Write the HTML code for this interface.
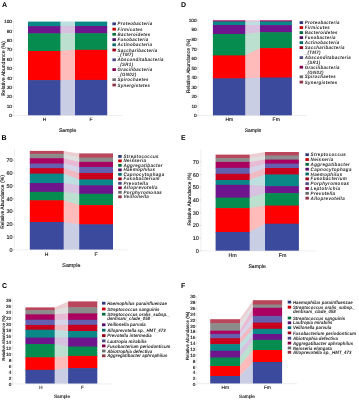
<!DOCTYPE html>
<html><head><meta charset="utf-8"><title>Relative abundance</title>
<style>
html,body{margin:0;padding:0;background:#fff;}
body{width:359px;height:400px;overflow:hidden;}
svg{display:block;}
text{font-family:'Liberation Sans', Arial, sans-serif;fill:#222;text-rendering:geometricPrecision;}
.tk{font-size:4.5px;fill:#111;stroke:#111;stroke-width:0.12px;}
.xl{font-size:4.5px;fill:#111;stroke:#111;stroke-width:0.12px;}
.ti{font-size:5.1px;fill:#111;stroke:#111;stroke-width:0.12px;}
.pl{font-size:7px;font-weight:bold;fill:#000;}
.lg{font-size:4.4px;font-weight:bold;font-style:italic;letter-spacing:0.3px;fill:#2a2a2a;}
.lb{font-size:4.5px;font-weight:bold;font-style:italic;letter-spacing:0.33px;fill:#2a2a2a;}
.lc{font-size:4.35px;font-weight:bold;font-style:italic;letter-spacing:0.03px;fill:#2a2a2a;}
</style></head>
<body>
<svg width="359" height="400" viewBox="0 0 359 400">
<rect width="359" height="400" fill="#fff"/>
<polygon points="60.1,26.7 75.3,26.6 75.3,21.6 60.1,21.6" fill="#bddfdf"/>
<polygon points="60.1,33.9 75.3,33.8 75.3,26 60.1,26.1" fill="#d8c0e0"/>
<polygon points="60.1,51.6 75.3,50.4 75.3,33.2 60.1,33.3" fill="#bce0cf"/>
<polygon points="60.1,80.7 75.3,80.5 75.3,49.8 60.1,51" fill="#ffbaba"/>
<polygon points="60.1,115.5 75.3,115.5 75.3,79.9 60.1,80.1" fill="#cacee4"/>
<rect x="28" y="21.6" width="32.4" height="5.1" fill="#0a8888"/>
<rect x="28" y="26.1" width="32.4" height="7.8" fill="#6e148c"/>
<rect x="28" y="33.3" width="32.4" height="18.3" fill="#078c4f"/>
<rect x="28" y="51" width="32.4" height="29.7" fill="#ff0000"/>
<rect x="28" y="80.1" width="32.4" height="35.4" fill="#3b4a9c"/>
<rect x="75" y="21.6" width="32.2" height="5" fill="#0a8888"/>
<rect x="75" y="26" width="32.2" height="7.8" fill="#6e148c"/>
<rect x="75" y="33.2" width="32.2" height="17.2" fill="#078c4f"/>
<rect x="75" y="49.8" width="32.2" height="30.7" fill="#ff0000"/>
<rect x="75" y="79.9" width="32.2" height="35.6" fill="#3b4a9c"/>
<line x1="13.5" y1="115.5" x2="13.5" y2="21.4" stroke="#dedede" stroke-width="0.5"/>
<line x1="13.5" y1="115.5" x2="122.3" y2="115.5" stroke="#dedede" stroke-width="0.5"/>
<line x1="12.1" y1="115.5" x2="13.5" y2="115.5" stroke="#9a9a9a" stroke-width="0.4"/>
<text x="11.9" y="117.19" class="tk" style="font-size:4.7px" text-anchor="end">0</text>
<line x1="12.1" y1="106.09" x2="13.5" y2="106.09" stroke="#9a9a9a" stroke-width="0.4"/>
<text x="11.9" y="107.78" class="tk" style="font-size:4.7px" text-anchor="end">10</text>
<line x1="12.1" y1="96.68" x2="13.5" y2="96.68" stroke="#9a9a9a" stroke-width="0.4"/>
<text x="11.9" y="98.37" class="tk" style="font-size:4.7px" text-anchor="end">20</text>
<line x1="12.1" y1="87.27" x2="13.5" y2="87.27" stroke="#9a9a9a" stroke-width="0.4"/>
<text x="11.9" y="88.96" class="tk" style="font-size:4.7px" text-anchor="end">30</text>
<line x1="12.1" y1="77.86" x2="13.5" y2="77.86" stroke="#9a9a9a" stroke-width="0.4"/>
<text x="11.9" y="79.55" class="tk" style="font-size:4.7px" text-anchor="end">40</text>
<line x1="12.1" y1="68.45" x2="13.5" y2="68.45" stroke="#9a9a9a" stroke-width="0.4"/>
<text x="11.9" y="70.14" class="tk" style="font-size:4.7px" text-anchor="end">50</text>
<line x1="12.1" y1="59.04" x2="13.5" y2="59.04" stroke="#9a9a9a" stroke-width="0.4"/>
<text x="11.9" y="60.73" class="tk" style="font-size:4.7px" text-anchor="end">60</text>
<line x1="12.1" y1="49.63" x2="13.5" y2="49.63" stroke="#9a9a9a" stroke-width="0.4"/>
<text x="11.9" y="51.32" class="tk" style="font-size:4.7px" text-anchor="end">70</text>
<line x1="12.1" y1="40.22" x2="13.5" y2="40.22" stroke="#9a9a9a" stroke-width="0.4"/>
<text x="11.9" y="41.91" class="tk" style="font-size:4.7px" text-anchor="end">80</text>
<line x1="12.1" y1="30.81" x2="13.5" y2="30.81" stroke="#9a9a9a" stroke-width="0.4"/>
<text x="11.9" y="32.5" class="tk" style="font-size:4.7px" text-anchor="end">90</text>
<line x1="12.1" y1="21.4" x2="13.5" y2="21.4" stroke="#9a9a9a" stroke-width="0.4"/>
<text x="11.9" y="23.09" class="tk" style="font-size:4.7px" text-anchor="end">100</text>
<text x="44.5" y="120.9" class="xl" style="font-size:4.8px" text-anchor="middle">H</text>
<text x="91" y="120.9" class="xl" style="font-size:4.8px" text-anchor="middle">F</text>
<text x="67.6" y="131.5" class="ti" style="font-size:5.15px" text-anchor="middle">Sample</text>
<text transform="translate(4.5,68.5) rotate(-90)" class="ti" style="font-size:5.1px" text-anchor="middle">Relative Abundance (%)</text>
<text x="2" y="7.4" class="pl">A</text>
<rect x="112.4" y="22.4" width="3.5" height="2.8" fill="#2e3979"/>
<text transform="translate(117.6,25.4) scale(1,1.08)" class="lg">Proteobacteria</text>
<rect x="112.4" y="27.8" width="3.5" height="2.8" fill="#c60000"/>
<text transform="translate(117.6,30.8) scale(1,1.08)" class="lg">Firmicutes</text>
<rect x="112.4" y="32.9" width="3.5" height="2.8" fill="#056d3d"/>
<text transform="translate(117.6,35.9) scale(1,1.08)" class="lg">Bacteroidetes</text>
<rect x="112.4" y="38.2" width="3.5" height="2.8" fill="#550f6d"/>
<text transform="translate(117.6,41.2) scale(1,1.08)" class="lg">Fusobacteria</text>
<rect x="112.4" y="43.4" width="3.5" height="2.8" fill="#076a6a"/>
<text transform="translate(117.6,46.4) scale(1,1.08)" class="lg">Actinobacteria</text>
<rect x="112.4" y="48.6" width="3.5" height="2.8" fill="#9c0017"/>
<text transform="translate(117.6,51.6) scale(1,1.08)" class="lg">Saccharibacteria</text>
<text transform="translate(117.6,56.45) scale(1,1.08)" class="lg">_(TM7)</text>
<rect x="112.4" y="58.4" width="3.5" height="2.8" fill="#4e4a88"/>
<text transform="translate(117.6,61.4) scale(1,1.08)" class="lg">Absconditabacteria</text>
<text transform="translate(117.6,66.25) scale(1,1.08)" class="lg">_(SR1)</text>
<rect x="112.4" y="68.2" width="3.5" height="2.8" fill="#84004a"/>
<text transform="translate(117.6,71.2) scale(1,1.08)" class="lg">Gracilibacteria</text>
<text transform="translate(117.6,76.05) scale(1,1.08)" class="lg">_(GN02)</text>
<rect x="112.4" y="78.3" width="3.5" height="2.8" fill="#6d6d6d"/>
<text transform="translate(117.6,81.3) scale(1,1.08)" class="lg">Spirochaetes</text>
<rect x="112.4" y="83.6" width="3.5" height="2.8" fill="#903646"/>
<text transform="translate(117.6,86.6) scale(1,1.08)" class="lg">Synergistetes</text>
<polygon points="244.9,22 260.3,22 260.3,20.3 244.9,20.3" fill="#e8bad4"/>
<polygon points="244.9,25.6 260.3,25.7 260.3,21.4 244.9,21.4" fill="#bddfdf"/>
<polygon points="244.9,34.6 260.3,32.8 260.3,25.1 244.9,25" fill="#d8c0e0"/>
<polygon points="244.9,56 260.3,48.7 260.3,32.2 244.9,34" fill="#bce0cf"/>
<polygon points="244.9,78.9 260.3,78.1 260.3,48.1 244.9,55.4" fill="#ffbaba"/>
<polygon points="244.9,115.6 260.3,115.6 260.3,77.5 244.9,78.3" fill="#cacee4"/>
<rect x="212.9" y="20.3" width="32.3" height="1.7" fill="#aa005f"/>
<rect x="212.9" y="21.4" width="32.3" height="4.2" fill="#0a8888"/>
<rect x="212.9" y="25" width="32.3" height="9.6" fill="#6e148c"/>
<rect x="212.9" y="34" width="32.3" height="22" fill="#078c4f"/>
<rect x="212.9" y="55.4" width="32.3" height="23.5" fill="#ff0000"/>
<rect x="212.9" y="78.3" width="32.3" height="37.3" fill="#3b4a9c"/>
<rect x="260" y="20.3" width="31.9" height="1.7" fill="#aa005f"/>
<rect x="260" y="21.4" width="31.9" height="4.3" fill="#0a8888"/>
<rect x="260" y="25.1" width="31.9" height="7.7" fill="#6e148c"/>
<rect x="260" y="32.2" width="31.9" height="16.5" fill="#078c4f"/>
<rect x="260" y="48.1" width="31.9" height="30" fill="#ff0000"/>
<rect x="260" y="77.5" width="31.9" height="38.1" fill="#3b4a9c"/>
<line x1="198.2" y1="115.6" x2="198.2" y2="20.2" stroke="#dedede" stroke-width="0.5"/>
<line x1="198.2" y1="115.6" x2="307" y2="115.6" stroke="#dedede" stroke-width="0.5"/>
<line x1="196.8" y1="115.6" x2="198.2" y2="115.6" stroke="#9a9a9a" stroke-width="0.4"/>
<text x="196.6" y="117.29" class="tk" style="font-size:4.7px" text-anchor="end">0</text>
<line x1="196.8" y1="106.06" x2="198.2" y2="106.06" stroke="#9a9a9a" stroke-width="0.4"/>
<text x="196.6" y="107.75" class="tk" style="font-size:4.7px" text-anchor="end">10</text>
<line x1="196.8" y1="96.52" x2="198.2" y2="96.52" stroke="#9a9a9a" stroke-width="0.4"/>
<text x="196.6" y="98.21" class="tk" style="font-size:4.7px" text-anchor="end">20</text>
<line x1="196.8" y1="86.98" x2="198.2" y2="86.98" stroke="#9a9a9a" stroke-width="0.4"/>
<text x="196.6" y="88.67" class="tk" style="font-size:4.7px" text-anchor="end">30</text>
<line x1="196.8" y1="77.44" x2="198.2" y2="77.44" stroke="#9a9a9a" stroke-width="0.4"/>
<text x="196.6" y="79.13" class="tk" style="font-size:4.7px" text-anchor="end">40</text>
<line x1="196.8" y1="67.9" x2="198.2" y2="67.9" stroke="#9a9a9a" stroke-width="0.4"/>
<text x="196.6" y="69.59" class="tk" style="font-size:4.7px" text-anchor="end">50</text>
<line x1="196.8" y1="58.36" x2="198.2" y2="58.36" stroke="#9a9a9a" stroke-width="0.4"/>
<text x="196.6" y="60.05" class="tk" style="font-size:4.7px" text-anchor="end">60</text>
<line x1="196.8" y1="48.82" x2="198.2" y2="48.82" stroke="#9a9a9a" stroke-width="0.4"/>
<text x="196.6" y="50.51" class="tk" style="font-size:4.7px" text-anchor="end">70</text>
<line x1="196.8" y1="39.28" x2="198.2" y2="39.28" stroke="#9a9a9a" stroke-width="0.4"/>
<text x="196.6" y="40.97" class="tk" style="font-size:4.7px" text-anchor="end">80</text>
<line x1="196.8" y1="29.74" x2="198.2" y2="29.74" stroke="#9a9a9a" stroke-width="0.4"/>
<text x="196.6" y="31.43" class="tk" style="font-size:4.7px" text-anchor="end">90</text>
<line x1="196.8" y1="20.2" x2="198.2" y2="20.2" stroke="#9a9a9a" stroke-width="0.4"/>
<text x="196.6" y="21.89" class="tk" style="font-size:4.7px" text-anchor="end">100</text>
<text x="229.4" y="120.7" class="xl" style="font-size:5.0px" text-anchor="middle">Hm</text>
<text x="276.2" y="120.7" class="xl" style="font-size:5.0px" text-anchor="middle">Fm</text>
<text x="253" y="131.8" class="ti" style="font-size:4.95px" text-anchor="middle">Sample</text>
<text transform="translate(189.8,66) rotate(-90)" class="ti" style="font-size:5.1px" text-anchor="middle">Relative Abundance (%)</text>
<text x="181.1" y="7.4" class="pl">D</text>
<rect x="299.6" y="21.2" width="3.5" height="2.8" fill="#2e3979"/>
<text transform="translate(304.8,24.2) scale(1,1.08)" class="lg">Proteobacteria</text>
<rect x="299.6" y="26.2" width="3.5" height="2.8" fill="#c60000"/>
<text transform="translate(304.8,29.2) scale(1,1.08)" class="lg">Firmicutes</text>
<rect x="299.6" y="31.2" width="3.5" height="2.8" fill="#056d3d"/>
<text transform="translate(304.8,34.2) scale(1,1.08)" class="lg">Bacteroidetes</text>
<rect x="299.6" y="36.2" width="3.5" height="2.8" fill="#550f6d"/>
<text transform="translate(304.8,39.2) scale(1,1.08)" class="lg">Fusobacteria</text>
<rect x="299.6" y="41.2" width="3.5" height="2.8" fill="#076a6a"/>
<text transform="translate(304.8,44.2) scale(1,1.08)" class="lg">Actinobacteria</text>
<rect x="299.6" y="46.2" width="3.5" height="2.8" fill="#9c0017"/>
<text transform="translate(304.8,49.2) scale(1,1.08)" class="lg">Saccharibacteria</text>
<text transform="translate(304.8,54) scale(1,1.08)" class="lg">_(TM7)</text>
<rect x="299.6" y="56.2" width="3.5" height="2.8" fill="#4e4a88"/>
<text transform="translate(304.8,59.2) scale(1,1.08)" class="lg">Absconditabacteria</text>
<text transform="translate(304.8,64) scale(1,1.08)" class="lg">_(SR1)</text>
<rect x="299.6" y="65.8" width="3.5" height="2.8" fill="#84004a"/>
<text transform="translate(304.8,68.8) scale(1,1.08)" class="lg">Gracilibacteria</text>
<text transform="translate(304.8,73.6) scale(1,1.08)" class="lg">_(GN02)</text>
<rect x="299.6" y="75.4" width="3.5" height="2.8" fill="#6d6d6d"/>
<text transform="translate(304.8,78.4) scale(1,1.08)" class="lg">Spirochaetes</text>
<rect x="299.6" y="80.7" width="3.5" height="2.8" fill="#903646"/>
<text transform="translate(304.8,83.7) scale(1,1.08)" class="lg">Synergistetes</text>
<polygon points="63.4,154.4 79.5,158.2 79.5,153.4 63.4,150.9" fill="#eccdd2"/>
<polygon points="63.4,158.8 79.5,162.5 79.5,157.6 63.4,153.8" fill="#e0e0e0"/>
<polygon points="63.4,164.1 79.5,167.5 79.5,161.9 63.4,158.2" fill="#e8bad4"/>
<polygon points="63.4,168.7 79.5,173.6 79.5,166.9 63.4,163.5" fill="#d5d4e9"/>
<polygon points="63.4,174.2 79.5,180 79.5,173 63.4,168.1" fill="#f0bac2"/>
<polygon points="63.4,183.6 79.5,185.9 79.5,179.4 63.4,173.6" fill="#bddfdf"/>
<polygon points="63.4,192.4 79.5,194.4 79.5,185.3 63.4,183" fill="#d8c0e0"/>
<polygon points="63.4,200.9 79.5,205.7 79.5,193.8 63.4,191.8" fill="#bce0cf"/>
<polygon points="63.4,222.6 79.5,224.9 79.5,205.1 63.4,200.3" fill="#ffbaba"/>
<polygon points="63.4,249.8 79.5,249.8 79.5,224.3 63.4,222" fill="#cacee4"/>
<rect x="29.8" y="150.9" width="33.9" height="3.5" fill="#b9465a"/>
<rect x="29.8" y="153.8" width="33.9" height="5" fill="#8c8c8c"/>
<rect x="29.8" y="158.2" width="33.9" height="5.9" fill="#aa005f"/>
<rect x="29.8" y="163.5" width="33.9" height="5.2" fill="#645faf"/>
<rect x="29.8" y="168.1" width="33.9" height="6.1" fill="#c8001e"/>
<rect x="29.8" y="173.6" width="33.9" height="10" fill="#0a8888"/>
<rect x="29.8" y="183" width="33.9" height="9.4" fill="#6e148c"/>
<rect x="29.8" y="191.8" width="33.9" height="9.1" fill="#078c4f"/>
<rect x="29.8" y="200.3" width="33.9" height="22.3" fill="#ff0000"/>
<rect x="29.8" y="222" width="33.9" height="27.8" fill="#3b4a9c"/>
<rect x="79.2" y="153.4" width="33.8" height="4.8" fill="#b9465a"/>
<rect x="79.2" y="157.6" width="33.8" height="4.9" fill="#8c8c8c"/>
<rect x="79.2" y="161.9" width="33.8" height="5.6" fill="#aa005f"/>
<rect x="79.2" y="166.9" width="33.8" height="6.7" fill="#645faf"/>
<rect x="79.2" y="173" width="33.8" height="7" fill="#c8001e"/>
<rect x="79.2" y="179.4" width="33.8" height="6.5" fill="#0a8888"/>
<rect x="79.2" y="185.3" width="33.8" height="9.1" fill="#6e148c"/>
<rect x="79.2" y="193.8" width="33.8" height="11.9" fill="#078c4f"/>
<rect x="79.2" y="205.1" width="33.8" height="19.8" fill="#ff0000"/>
<rect x="79.2" y="224.3" width="33.8" height="25.5" fill="#3b4a9c"/>
<line x1="14.5" y1="249.8" x2="14.5" y2="149" stroke="#dedede" stroke-width="0.5"/>
<line x1="14.5" y1="249.8" x2="128" y2="249.8" stroke="#dedede" stroke-width="0.5"/>
<line x1="13.1" y1="249.8" x2="14.5" y2="249.8" stroke="#9a9a9a" stroke-width="0.4"/>
<text x="12.6" y="251.78" class="tk" style="font-size:5.5px" text-anchor="end">0</text>
<line x1="13.1" y1="237" x2="14.5" y2="237" stroke="#9a9a9a" stroke-width="0.4"/>
<text x="12.6" y="238.98" class="tk" style="font-size:5.5px" text-anchor="end">10</text>
<line x1="13.1" y1="224.2" x2="14.5" y2="224.2" stroke="#9a9a9a" stroke-width="0.4"/>
<text x="12.6" y="226.18" class="tk" style="font-size:5.5px" text-anchor="end">20</text>
<line x1="13.1" y1="211.4" x2="14.5" y2="211.4" stroke="#9a9a9a" stroke-width="0.4"/>
<text x="12.6" y="213.38" class="tk" style="font-size:5.5px" text-anchor="end">30</text>
<line x1="13.1" y1="198.6" x2="14.5" y2="198.6" stroke="#9a9a9a" stroke-width="0.4"/>
<text x="12.6" y="200.58" class="tk" style="font-size:5.5px" text-anchor="end">40</text>
<line x1="13.1" y1="185.8" x2="14.5" y2="185.8" stroke="#9a9a9a" stroke-width="0.4"/>
<text x="12.6" y="187.78" class="tk" style="font-size:5.5px" text-anchor="end">50</text>
<line x1="13.1" y1="173" x2="14.5" y2="173" stroke="#9a9a9a" stroke-width="0.4"/>
<text x="12.6" y="174.98" class="tk" style="font-size:5.5px" text-anchor="end">60</text>
<line x1="13.1" y1="160.2" x2="14.5" y2="160.2" stroke="#9a9a9a" stroke-width="0.4"/>
<text x="12.6" y="162.18" class="tk" style="font-size:5.5px" text-anchor="end">70</text>
<text x="46.7" y="255.6" class="xl" style="font-size:5.1px" text-anchor="middle">H</text>
<text x="96" y="255.6" class="xl" style="font-size:5.1px" text-anchor="middle">F</text>
<text x="71.4" y="266.5" class="ti" style="font-size:5.35px" text-anchor="middle">Sample</text>
<text transform="translate(4.3,202) rotate(-90)" class="ti" style="font-size:5.0px" text-anchor="middle">Relative Abundance (%)</text>
<text x="1.5" y="140.1" class="pl">B</text>
<rect x="118.2" y="155" width="3.5" height="2.8" fill="#2e3979"/>
<text transform="translate(123.4,158) scale(1,1.08)" class="lb">Streptococcus</text>
<rect x="118.2" y="159.49" width="3.5" height="2.8" fill="#c60000"/>
<text transform="translate(123.4,162.49) scale(1,1.08)" class="lb">Neisseria</text>
<rect x="118.2" y="163.98" width="3.5" height="2.8" fill="#056d3d"/>
<text transform="translate(123.4,166.98) scale(1,1.08)" class="lb">Aggregatibacter</text>
<rect x="118.2" y="168.47" width="3.5" height="2.8" fill="#550f6d"/>
<text transform="translate(123.4,171.47) scale(1,1.08)" class="lb">Haemophilus</text>
<rect x="118.2" y="172.96" width="3.5" height="2.8" fill="#076a6a"/>
<text transform="translate(123.4,175.96) scale(1,1.08)" class="lb">Capnocytophaga</text>
<rect x="118.2" y="177.45" width="3.5" height="2.8" fill="#9c0017"/>
<text transform="translate(123.4,180.45) scale(1,1.08)" class="lb">Fusobacterium</text>
<rect x="118.2" y="181.94" width="3.5" height="2.8" fill="#4e4a88"/>
<text transform="translate(123.4,184.94) scale(1,1.08)" class="lb">Prevotella</text>
<rect x="118.2" y="186.43" width="3.5" height="2.8" fill="#84004a"/>
<text transform="translate(123.4,189.43) scale(1,1.08)" class="lb">Alloprevotella</text>
<rect x="118.2" y="190.92" width="3.5" height="2.8" fill="#6d6d6d"/>
<text transform="translate(123.4,193.92) scale(1,1.08)" class="lb">Porphyromonas</text>
<rect x="118.2" y="195.41" width="3.5" height="2.8" fill="#903646"/>
<text transform="translate(123.4,198.41) scale(1,1.08)" class="lb">Veillonella</text>
<polygon points="249.4,158.6 265.3,156 265.3,152 249.4,154.6" fill="#eccdd2"/>
<polygon points="249.4,162.5 265.3,160.2 265.3,155.4 249.4,158" fill="#e0e0e0"/>
<polygon points="249.4,168.4 265.3,164.2 265.3,159.6 249.4,161.9" fill="#e8bad4"/>
<polygon points="249.4,174.4 265.3,168.6 265.3,163.6 249.4,167.8" fill="#d5d4e9"/>
<polygon points="249.4,180.6 265.3,175 265.3,168 249.4,173.8" fill="#f0bac2"/>
<polygon points="249.4,185.4 265.3,186.7 265.3,174.4 249.4,180" fill="#bddfdf"/>
<polygon points="249.4,198.2 265.3,193.7 265.3,186.1 249.4,184.8" fill="#d8c0e0"/>
<polygon points="249.4,208.7 265.3,206.2 265.3,193.1 249.4,197.6" fill="#bce0cf"/>
<polygon points="249.4,232.6 265.3,224.3 265.3,205.6 249.4,208.1" fill="#ffbaba"/>
<polygon points="249.4,250.9 265.3,250.9 265.3,223.7 249.4,232" fill="#cacee4"/>
<rect x="215.6" y="154.6" width="34.1" height="4" fill="#b9465a"/>
<rect x="215.6" y="158" width="34.1" height="4.5" fill="#8c8c8c"/>
<rect x="215.6" y="161.9" width="34.1" height="6.5" fill="#aa005f"/>
<rect x="215.6" y="167.8" width="34.1" height="6.6" fill="#645faf"/>
<rect x="215.6" y="173.8" width="34.1" height="6.8" fill="#c8001e"/>
<rect x="215.6" y="180" width="34.1" height="5.4" fill="#0a8888"/>
<rect x="215.6" y="184.8" width="34.1" height="13.4" fill="#6e148c"/>
<rect x="215.6" y="197.6" width="34.1" height="11.1" fill="#078c4f"/>
<rect x="215.6" y="208.1" width="34.1" height="24.5" fill="#ff0000"/>
<rect x="215.6" y="232" width="34.1" height="18.9" fill="#3b4a9c"/>
<rect x="265" y="152" width="33.9" height="4" fill="#b9465a"/>
<rect x="265" y="155.4" width="33.9" height="4.8" fill="#8c8c8c"/>
<rect x="265" y="159.6" width="33.9" height="4.6" fill="#aa005f"/>
<rect x="265" y="163.6" width="33.9" height="5" fill="#645faf"/>
<rect x="265" y="168" width="33.9" height="7" fill="#c8001e"/>
<rect x="265" y="174.4" width="33.9" height="12.3" fill="#0a8888"/>
<rect x="265" y="186.1" width="33.9" height="7.6" fill="#6e148c"/>
<rect x="265" y="193.1" width="33.9" height="13.1" fill="#078c4f"/>
<rect x="265" y="205.6" width="33.9" height="18.7" fill="#ff0000"/>
<rect x="265" y="223.7" width="33.9" height="27.2" fill="#3b4a9c"/>
<line x1="200.9" y1="250.9" x2="200.9" y2="149.5" stroke="#dedede" stroke-width="0.5"/>
<line x1="200.9" y1="250.9" x2="316" y2="250.9" stroke="#dedede" stroke-width="0.5"/>
<line x1="199.5" y1="250.9" x2="200.9" y2="250.9" stroke="#9a9a9a" stroke-width="0.4"/>
<text x="198.8" y="252.88" class="tk" style="font-size:5.5px" text-anchor="end">0</text>
<line x1="199.5" y1="238.17" x2="200.9" y2="238.17" stroke="#9a9a9a" stroke-width="0.4"/>
<text x="198.8" y="240.15" class="tk" style="font-size:5.5px" text-anchor="end">10</text>
<line x1="199.5" y1="225.44" x2="200.9" y2="225.44" stroke="#9a9a9a" stroke-width="0.4"/>
<text x="198.8" y="227.42" class="tk" style="font-size:5.5px" text-anchor="end">20</text>
<line x1="199.5" y1="212.71" x2="200.9" y2="212.71" stroke="#9a9a9a" stroke-width="0.4"/>
<text x="198.8" y="214.69" class="tk" style="font-size:5.5px" text-anchor="end">30</text>
<line x1="199.5" y1="199.98" x2="200.9" y2="199.98" stroke="#9a9a9a" stroke-width="0.4"/>
<text x="198.8" y="201.96" class="tk" style="font-size:5.5px" text-anchor="end">40</text>
<line x1="199.5" y1="187.25" x2="200.9" y2="187.25" stroke="#9a9a9a" stroke-width="0.4"/>
<text x="198.8" y="189.23" class="tk" style="font-size:5.5px" text-anchor="end">50</text>
<line x1="199.5" y1="174.52" x2="200.9" y2="174.52" stroke="#9a9a9a" stroke-width="0.4"/>
<text x="198.8" y="176.5" class="tk" style="font-size:5.5px" text-anchor="end">60</text>
<line x1="199.5" y1="161.79" x2="200.9" y2="161.79" stroke="#9a9a9a" stroke-width="0.4"/>
<text x="198.8" y="163.77" class="tk" style="font-size:5.5px" text-anchor="end">70</text>
<text x="232.6" y="256.9" class="xl" style="font-size:5.3px" text-anchor="middle">Hm</text>
<text x="282.7" y="256.9" class="xl" style="font-size:5.3px" text-anchor="middle">Fm</text>
<text x="257.1" y="268.4" class="ti" style="font-size:5.15px" text-anchor="middle">Sample</text>
<text transform="translate(190.6,199) rotate(-90)" class="ti" style="font-size:4.95px" text-anchor="middle">Relative Abundance (%)</text>
<text x="181" y="140.2" class="pl">E</text>
<rect x="305.4" y="153.3" width="3.5" height="2.8" fill="#2e3979"/>
<text transform="translate(310.6,156.3) scale(1,1.08)" class="lb">Streptococcus</text>
<rect x="305.4" y="158.13" width="3.5" height="2.8" fill="#c60000"/>
<text transform="translate(310.6,161.13) scale(1,1.08)" class="lb">Neisseria</text>
<rect x="305.4" y="162.96" width="3.5" height="2.8" fill="#056d3d"/>
<text transform="translate(310.6,165.96) scale(1,1.08)" class="lb">Aggregatibacter</text>
<rect x="305.4" y="167.79" width="3.5" height="2.8" fill="#550f6d"/>
<text transform="translate(310.6,170.79) scale(1,1.08)" class="lb">Capnocytophaga</text>
<rect x="305.4" y="172.62" width="3.5" height="2.8" fill="#076a6a"/>
<text transform="translate(310.6,175.62) scale(1,1.08)" class="lb">Haemophilus</text>
<rect x="305.4" y="177.45" width="3.5" height="2.8" fill="#9c0017"/>
<text transform="translate(310.6,180.45) scale(1,1.08)" class="lb">Fusobacterium</text>
<rect x="305.4" y="182.28" width="3.5" height="2.8" fill="#4e4a88"/>
<text transform="translate(310.6,185.28) scale(1,1.08)" class="lb">Porphyromonas</text>
<rect x="305.4" y="187.11" width="3.5" height="2.8" fill="#84004a"/>
<text transform="translate(310.6,190.11) scale(1,1.08)" class="lb">Leptotrichia</text>
<rect x="305.4" y="191.94" width="3.5" height="2.8" fill="#6d6d6d"/>
<text transform="translate(310.6,194.94) scale(1,1.08)" class="lb">Prevotella</text>
<rect x="305.4" y="196.77" width="3.5" height="2.8" fill="#903646"/>
<text transform="translate(310.6,199.77) scale(1,1.08)" class="lb">Alloprevotella</text>
<polygon points="54.4,310.7 68.4,307.8 68.4,301.4 54.4,307.4" fill="#eccdd2"/>
<polygon points="54.4,314.9 68.4,314 68.4,307.2 54.4,310.1" fill="#e0e0e0"/>
<polygon points="54.4,320.3 68.4,320.4 68.4,313.4 54.4,314.3" fill="#e8bad4"/>
<polygon points="54.4,325.6 68.4,325.4 68.4,319.8 54.4,319.7" fill="#d5d4e9"/>
<polygon points="54.4,330.3 68.4,331.6 68.4,324.8 54.4,325" fill="#f0bac2"/>
<polygon points="54.4,338.2 68.4,338.2 68.4,331 54.4,329.7" fill="#bddfdf"/>
<polygon points="54.4,344.6 68.4,347.1 68.4,337.6 54.4,337.6" fill="#d8c0e0"/>
<polygon points="54.4,357.9 68.4,356.5 68.4,346.5 54.4,344" fill="#bce0cf"/>
<polygon points="54.4,370.4 68.4,368.7 68.4,355.9 54.4,357.3" fill="#ffbaba"/>
<polygon points="54.4,383.7 68.4,383.7 68.4,368.1 54.4,369.8" fill="#cacee4"/>
<rect x="25.4" y="307.4" width="29.3" height="3.3" fill="#b9465a"/>
<rect x="25.4" y="310.1" width="29.3" height="4.8" fill="#8c8c8c"/>
<rect x="25.4" y="314.3" width="29.3" height="6" fill="#aa005f"/>
<rect x="25.4" y="319.7" width="29.3" height="5.9" fill="#645faf"/>
<rect x="25.4" y="325" width="29.3" height="5.3" fill="#c8001e"/>
<rect x="25.4" y="329.7" width="29.3" height="8.5" fill="#0a8888"/>
<rect x="25.4" y="337.6" width="29.3" height="7" fill="#6e148c"/>
<rect x="25.4" y="344" width="29.3" height="13.9" fill="#078c4f"/>
<rect x="25.4" y="357.3" width="29.3" height="13.1" fill="#ff0000"/>
<rect x="25.4" y="369.8" width="29.3" height="13.9" fill="#3b4a9c"/>
<rect x="68.1" y="301.4" width="29.2" height="6.4" fill="#b9465a"/>
<rect x="68.1" y="307.2" width="29.2" height="6.8" fill="#8c8c8c"/>
<rect x="68.1" y="313.4" width="29.2" height="7" fill="#aa005f"/>
<rect x="68.1" y="319.8" width="29.2" height="5.6" fill="#645faf"/>
<rect x="68.1" y="324.8" width="29.2" height="6.8" fill="#c8001e"/>
<rect x="68.1" y="331" width="29.2" height="7.2" fill="#0a8888"/>
<rect x="68.1" y="337.6" width="29.2" height="9.5" fill="#6e148c"/>
<rect x="68.1" y="346.5" width="29.2" height="10" fill="#078c4f"/>
<rect x="68.1" y="355.9" width="29.2" height="12.8" fill="#ff0000"/>
<rect x="68.1" y="368.1" width="29.2" height="15.6" fill="#3b4a9c"/>
<line x1="12.6" y1="383.9" x2="12.6" y2="299.5" stroke="#dedede" stroke-width="0.5"/>
<line x1="12.6" y1="383.9" x2="112" y2="383.9" stroke="#dedede" stroke-width="0.5"/>
<line x1="11.2" y1="383.9" x2="12.6" y2="383.9" stroke="#9a9a9a" stroke-width="0.4"/>
<text x="11.2" y="385.56" class="tk" style="font-size:4.6px" text-anchor="end">0</text>
<line x1="11.2" y1="377.91" x2="12.6" y2="377.91" stroke="#9a9a9a" stroke-width="0.4"/>
<text x="11.2" y="379.57" class="tk" style="font-size:4.6px" text-anchor="end">2</text>
<line x1="11.2" y1="371.92" x2="12.6" y2="371.92" stroke="#9a9a9a" stroke-width="0.4"/>
<text x="11.2" y="373.58" class="tk" style="font-size:4.6px" text-anchor="end">4</text>
<line x1="11.2" y1="365.93" x2="12.6" y2="365.93" stroke="#9a9a9a" stroke-width="0.4"/>
<text x="11.2" y="367.59" class="tk" style="font-size:4.6px" text-anchor="end">6</text>
<line x1="11.2" y1="359.94" x2="12.6" y2="359.94" stroke="#9a9a9a" stroke-width="0.4"/>
<text x="11.2" y="361.6" class="tk" style="font-size:4.6px" text-anchor="end">8</text>
<line x1="11.2" y1="353.95" x2="12.6" y2="353.95" stroke="#9a9a9a" stroke-width="0.4"/>
<text x="11.2" y="355.61" class="tk" style="font-size:4.6px" text-anchor="end">10</text>
<line x1="11.2" y1="347.96" x2="12.6" y2="347.96" stroke="#9a9a9a" stroke-width="0.4"/>
<text x="11.2" y="349.62" class="tk" style="font-size:4.6px" text-anchor="end">12</text>
<line x1="11.2" y1="341.97" x2="12.6" y2="341.97" stroke="#9a9a9a" stroke-width="0.4"/>
<text x="11.2" y="343.63" class="tk" style="font-size:4.6px" text-anchor="end">14</text>
<line x1="11.2" y1="335.98" x2="12.6" y2="335.98" stroke="#9a9a9a" stroke-width="0.4"/>
<text x="11.2" y="337.64" class="tk" style="font-size:4.6px" text-anchor="end">16</text>
<line x1="11.2" y1="329.99" x2="12.6" y2="329.99" stroke="#9a9a9a" stroke-width="0.4"/>
<text x="11.2" y="331.65" class="tk" style="font-size:4.6px" text-anchor="end">18</text>
<line x1="11.2" y1="324" x2="12.6" y2="324" stroke="#9a9a9a" stroke-width="0.4"/>
<text x="11.2" y="325.66" class="tk" style="font-size:4.6px" text-anchor="end">20</text>
<line x1="11.2" y1="318.01" x2="12.6" y2="318.01" stroke="#9a9a9a" stroke-width="0.4"/>
<text x="11.2" y="319.67" class="tk" style="font-size:4.6px" text-anchor="end">22</text>
<line x1="11.2" y1="312.02" x2="12.6" y2="312.02" stroke="#9a9a9a" stroke-width="0.4"/>
<text x="11.2" y="313.68" class="tk" style="font-size:4.6px" text-anchor="end">24</text>
<line x1="11.2" y1="306.03" x2="12.6" y2="306.03" stroke="#9a9a9a" stroke-width="0.4"/>
<text x="11.2" y="307.69" class="tk" style="font-size:4.6px" text-anchor="end">26</text>
<line x1="11.2" y1="300.04" x2="12.6" y2="300.04" stroke="#9a9a9a" stroke-width="0.4"/>
<text x="11.2" y="301.7" class="tk" style="font-size:4.6px" text-anchor="end">28</text>
<text x="40.9" y="388.5" class="xl" style="font-size:4.5px" text-anchor="middle">H</text>
<text x="82.3" y="388.5" class="xl" style="font-size:4.5px" text-anchor="middle">F</text>
<text x="62" y="397.9" class="ti" style="font-size:4.75px" text-anchor="middle">Sample</text>
<text transform="translate(5.4,338) rotate(-90)" class="ti" style="font-size:4.2px" text-anchor="middle">Relative Abundance (%)</text>
<text x="2" y="287.7" class="pl">C</text>
<rect x="102" y="301.8" width="3.5" height="2.8" fill="#2e3979"/>
<text transform="translate(107.2,304.8) scale(1,1.08)" class="lc">Haemophilus parainfluenzae</text>
<rect x="102" y="307.6" width="3.5" height="2.8" fill="#c60000"/>
<text transform="translate(107.2,310.6) scale(1,1.08)" class="lc">Streptococcus sanguinis</text>
<rect x="102" y="312.8" width="3.5" height="2.8" fill="#056d3d"/>
<text transform="translate(107.2,315.8) scale(1,1.08)" class="lc">Streptococcus oralis_subsp._</text>
<text transform="translate(107.2,320.2) scale(1,1.08)" class="lc">dentisani_clade_058</text>
<rect x="102" y="323.4" width="3.5" height="2.8" fill="#550f6d"/>
<text transform="translate(107.2,326.4) scale(1,1.08)" class="lc">Veillonella parvula</text>
<rect x="102" y="328.8" width="3.5" height="2.8" fill="#076a6a"/>
<text transform="translate(107.2,331.8) scale(1,1.08)" class="lc">Alloprevotella sp._HMT_473</text>
<rect x="102" y="334.2" width="3.5" height="2.8" fill="#9c0017"/>
<text transform="translate(107.2,337.2) scale(1,1.08)" class="lc">Prevotella intermedia</text>
<rect x="102" y="339.5" width="3.5" height="2.8" fill="#4e4a88"/>
<text transform="translate(107.2,342.5) scale(1,1.08)" class="lc">Lautropia mirabilis</text>
<rect x="102" y="344.5" width="3.5" height="2.8" fill="#84004a"/>
<text transform="translate(107.2,347.5) scale(1,1.08)" class="lc">Fusobacterium periodonticum</text>
<rect x="102" y="349.6" width="3.5" height="2.8" fill="#6d6d6d"/>
<text transform="translate(107.2,352.6) scale(1,1.08)" class="lc">Abiotrophia defectiva</text>
<rect x="102" y="354.4" width="3.5" height="2.8" fill="#903646"/>
<text transform="translate(107.2,357.4) scale(1,1.08)" class="lc">Aggregatibacter aphrophilus</text>
<polygon points="239.7,323.8 253.2,305.1 253.2,300.2 239.7,319.2" fill="#eccdd2"/>
<polygon points="239.7,331.3 253.2,308.4 253.2,304.5 239.7,323.2" fill="#e0e0e0"/>
<polygon points="239.7,334.5 253.2,316.5 253.2,307.8 239.7,330.7" fill="#e8bad4"/>
<polygon points="239.7,338.8 253.2,323.2 253.2,315.9 239.7,333.9" fill="#d5d4e9"/>
<polygon points="239.7,344.7 253.2,329.4 253.2,322.6 239.7,338.2" fill="#f0bac2"/>
<polygon points="239.7,351.3 253.2,334.6 253.2,328.8 239.7,344.1" fill="#bddfdf"/>
<polygon points="239.7,358.1 253.2,340.4 253.2,334 239.7,350.7" fill="#d8c0e0"/>
<polygon points="239.7,366.6 253.2,350.6 253.2,339.8 239.7,357.5" fill="#bce0cf"/>
<polygon points="239.7,376.6 253.2,362.6 253.2,350 239.7,366" fill="#ffbaba"/>
<polygon points="239.7,383.7 253.2,383.7 253.2,362 239.7,376" fill="#cacee4"/>
<rect x="210.2" y="319.2" width="29.8" height="4.6" fill="#b9465a"/>
<rect x="210.2" y="323.2" width="29.8" height="8.1" fill="#8c8c8c"/>
<rect x="210.2" y="330.7" width="29.8" height="3.8" fill="#aa005f"/>
<rect x="210.2" y="333.9" width="29.8" height="4.9" fill="#645faf"/>
<rect x="210.2" y="338.2" width="29.8" height="6.5" fill="#c8001e"/>
<rect x="210.2" y="344.1" width="29.8" height="7.2" fill="#0a8888"/>
<rect x="210.2" y="350.7" width="29.8" height="7.4" fill="#6e148c"/>
<rect x="210.2" y="357.5" width="29.8" height="9.1" fill="#078c4f"/>
<rect x="210.2" y="366" width="29.8" height="10.6" fill="#ff0000"/>
<rect x="210.2" y="376" width="29.8" height="7.7" fill="#3b4a9c"/>
<rect x="252.9" y="300.2" width="29.2" height="4.9" fill="#b9465a"/>
<rect x="252.9" y="304.5" width="29.2" height="3.9" fill="#8c8c8c"/>
<rect x="252.9" y="307.8" width="29.2" height="8.7" fill="#aa005f"/>
<rect x="252.9" y="315.9" width="29.2" height="7.3" fill="#645faf"/>
<rect x="252.9" y="322.6" width="29.2" height="6.8" fill="#c8001e"/>
<rect x="252.9" y="328.8" width="29.2" height="5.8" fill="#0a8888"/>
<rect x="252.9" y="334" width="29.2" height="6.4" fill="#6e148c"/>
<rect x="252.9" y="339.8" width="29.2" height="10.8" fill="#078c4f"/>
<rect x="252.9" y="350" width="29.2" height="12.6" fill="#ff0000"/>
<rect x="252.9" y="362" width="29.2" height="21.7" fill="#3b4a9c"/>
<line x1="196.8" y1="383.7" x2="196.8" y2="296" stroke="#dedede" stroke-width="0.5"/>
<line x1="196.8" y1="383.7" x2="297" y2="383.7" stroke="#dedede" stroke-width="0.5"/>
<line x1="195.4" y1="384.4" x2="196.8" y2="384.4" stroke="#9a9a9a" stroke-width="0.4"/>
<text x="195.4" y="386.06" class="tk" style="font-size:4.6px" text-anchor="end">0</text>
<line x1="195.4" y1="378.55" x2="196.8" y2="378.55" stroke="#9a9a9a" stroke-width="0.4"/>
<text x="195.4" y="380.21" class="tk" style="font-size:4.6px" text-anchor="end">2</text>
<line x1="195.4" y1="372.7" x2="196.8" y2="372.7" stroke="#9a9a9a" stroke-width="0.4"/>
<text x="195.4" y="374.36" class="tk" style="font-size:4.6px" text-anchor="end">4</text>
<line x1="195.4" y1="366.85" x2="196.8" y2="366.85" stroke="#9a9a9a" stroke-width="0.4"/>
<text x="195.4" y="368.51" class="tk" style="font-size:4.6px" text-anchor="end">6</text>
<line x1="195.4" y1="361" x2="196.8" y2="361" stroke="#9a9a9a" stroke-width="0.4"/>
<text x="195.4" y="362.66" class="tk" style="font-size:4.6px" text-anchor="end">8</text>
<line x1="195.4" y1="355.15" x2="196.8" y2="355.15" stroke="#9a9a9a" stroke-width="0.4"/>
<text x="195.4" y="356.81" class="tk" style="font-size:4.6px" text-anchor="end">10</text>
<line x1="195.4" y1="349.3" x2="196.8" y2="349.3" stroke="#9a9a9a" stroke-width="0.4"/>
<text x="195.4" y="350.96" class="tk" style="font-size:4.6px" text-anchor="end">12</text>
<line x1="195.4" y1="343.45" x2="196.8" y2="343.45" stroke="#9a9a9a" stroke-width="0.4"/>
<text x="195.4" y="345.11" class="tk" style="font-size:4.6px" text-anchor="end">14</text>
<line x1="195.4" y1="337.6" x2="196.8" y2="337.6" stroke="#9a9a9a" stroke-width="0.4"/>
<text x="195.4" y="339.26" class="tk" style="font-size:4.6px" text-anchor="end">16</text>
<line x1="195.4" y1="331.75" x2="196.8" y2="331.75" stroke="#9a9a9a" stroke-width="0.4"/>
<text x="195.4" y="333.41" class="tk" style="font-size:4.6px" text-anchor="end">18</text>
<line x1="195.4" y1="325.9" x2="196.8" y2="325.9" stroke="#9a9a9a" stroke-width="0.4"/>
<text x="195.4" y="327.56" class="tk" style="font-size:4.6px" text-anchor="end">20</text>
<line x1="195.4" y1="320.05" x2="196.8" y2="320.05" stroke="#9a9a9a" stroke-width="0.4"/>
<text x="195.4" y="321.71" class="tk" style="font-size:4.6px" text-anchor="end">22</text>
<line x1="195.4" y1="314.2" x2="196.8" y2="314.2" stroke="#9a9a9a" stroke-width="0.4"/>
<text x="195.4" y="315.86" class="tk" style="font-size:4.6px" text-anchor="end">24</text>
<line x1="195.4" y1="308.35" x2="196.8" y2="308.35" stroke="#9a9a9a" stroke-width="0.4"/>
<text x="195.4" y="310.01" class="tk" style="font-size:4.6px" text-anchor="end">26</text>
<line x1="195.4" y1="302.5" x2="196.8" y2="302.5" stroke="#9a9a9a" stroke-width="0.4"/>
<text x="195.4" y="304.16" class="tk" style="font-size:4.6px" text-anchor="end">28</text>
<line x1="195.4" y1="296.65" x2="196.8" y2="296.65" stroke="#9a9a9a" stroke-width="0.4"/>
<text x="195.4" y="298.31" class="tk" style="font-size:4.6px" text-anchor="end">30</text>
<text x="225.3" y="388.7" class="xl" style="font-size:4.8px" text-anchor="middle">Hm</text>
<text x="267.4" y="388.7" class="xl" style="font-size:4.8px" text-anchor="middle">Fm</text>
<text x="247" y="398.4" class="ti" style="font-size:4.7px" text-anchor="middle">Sample</text>
<text transform="translate(189.1,336) rotate(-90)" class="ti" style="font-size:4.5px" text-anchor="middle">Relative Abundance (%)</text>
<text x="181" y="288" class="pl">F</text>
<rect x="287.7" y="300.7" width="3.5" height="2.8" fill="#2e3979"/>
<text transform="translate(292.9,303.7) scale(1,1.08)" class="lc">Haemophilus parainfluenzae</text>
<rect x="287.7" y="305.8" width="3.5" height="2.8" fill="#c60000"/>
<text transform="translate(292.9,308.8) scale(1,1.08)" class="lc">Streptococcus oralis_subsp._</text>
<text transform="translate(292.9,313.2) scale(1,1.08)" class="lc">dentisani_clade_058</text>
<rect x="287.7" y="316.6" width="3.5" height="2.8" fill="#056d3d"/>
<text transform="translate(292.9,319.6) scale(1,1.08)" class="lc">Streptococcus sanguinis</text>
<rect x="287.7" y="321.4" width="3.5" height="2.8" fill="#550f6d"/>
<text transform="translate(292.9,324.4) scale(1,1.08)" class="lc">Lautropia mirabilis</text>
<rect x="287.7" y="326.3" width="3.5" height="2.8" fill="#076a6a"/>
<text transform="translate(292.9,329.3) scale(1,1.08)" class="lc">Veillonella parvula</text>
<rect x="287.7" y="331.5" width="3.5" height="2.8" fill="#9c0017"/>
<text transform="translate(292.9,334.5) scale(1,1.08)" class="lc">Fusobacterium periodonticum</text>
<rect x="287.7" y="336.8" width="3.5" height="2.8" fill="#4e4a88"/>
<text transform="translate(292.9,339.8) scale(1,1.08)" class="lc">Abiotrophia defectiva</text>
<rect x="287.7" y="341.7" width="3.5" height="2.8" fill="#84004a"/>
<text transform="translate(292.9,344.7) scale(1,1.08)" class="lc">Aggregatibacter aphrophilus</text>
<rect x="287.7" y="346.6" width="3.5" height="2.8" fill="#6d6d6d"/>
<text transform="translate(292.9,349.6) scale(1,1.08)" class="lc">Neisseria elongata</text>
<rect x="287.7" y="350.9" width="3.5" height="2.8" fill="#903646"/>
<text transform="translate(292.9,353.9) scale(1,1.08)" class="lc">Alloprevotella sp._HMT_473</text>
</svg>
</body></html>
